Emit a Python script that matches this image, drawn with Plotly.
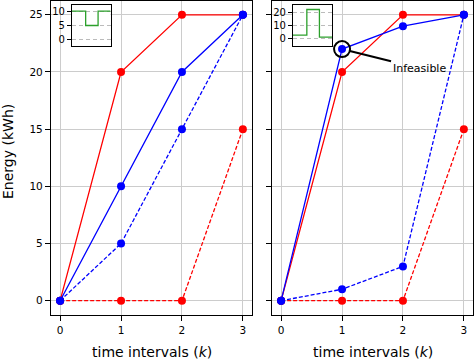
import plotly.graph_objects as go

k = [0, 1, 2, 3]
k_ticks = [0, 1, 2, 3]
e_ticks = [0, 5, 10, 15, 20, 25]

# left panel
left_red_solid = [0, 20, 25, 25]
left_red_dash = [0, 0, 0, 15]
left_blue_solid = [0, 10, 20, 25]
left_blue_dash = [0, 5, 15, 25]

# right panel
right_red_solid = [0, 20, 25, 25]
right_red_dash = [0, 0, 0, 15]
right_blue_solid = [0, 22, 24, 25]
right_blue_dash = [0, 1, 3, 25]

# insets (step profiles)
inset_x = [-0.1, 1, 2, 3.0]
left_inset_y = [10, 5, 10, 10]
left_inset_ticks = [0, 5, 10]
right_inset_y = [2.5, 22.5, 1, 1]
right_inset_ticks = [0, 10, 20]

infeasible_k = 1
infeasible_e = 22

RED = "#ff0000"
BLUE = "#0000ff"
GREEN = "#2ca02c"
DASH = "4px,2px"
FONT = "DejaVu Sans"

fig = go.Figure()

def add_series(y, color, dash, xa, ya):
    fig.add_trace(go.Scatter(
        x=k, y=y, mode="lines+markers", xaxis=xa, yaxis=ya,
        line=dict(color=color, width=1.3, dash=dash),
        marker=dict(color=color, size=8, line=dict(width=0)),
        showlegend=False, hoverinfo="skip"))

add_series(left_red_solid, RED, "solid", "x", "y")
add_series(left_red_dash, RED, DASH, "x", "y")
add_series(left_blue_solid, BLUE, "solid", "x", "y")
add_series(left_blue_dash, BLUE, DASH, "x", "y")

add_series(right_red_solid, RED, "solid", "x2", "y2")
add_series(right_red_dash, RED, DASH, "x2", "y2")
add_series(right_blue_solid, BLUE, "solid", "x2", "y2")
add_series(right_blue_dash, BLUE, DASH, "x2", "y2")

# infeasible circle
fig.add_trace(go.Scatter(
    x=[infeasible_k], y=[infeasible_e], mode="markers", xaxis="x2", yaxis="y2",
    marker=dict(symbol="circle-open", size=16, color="black", line=dict(width=2, color="black")),
    showlegend=False, hoverinfo="skip"))

# insets
fig.add_trace(go.Scatter(x=inset_x, y=left_inset_y, mode="lines", line_shape="hv",
                         xaxis="x3", yaxis="y3", line=dict(color=GREEN, width=1.3),
                         showlegend=False, hoverinfo="skip"))
fig.add_trace(go.Scatter(x=inset_x, y=right_inset_y, mode="lines", line_shape="hv",
                         xaxis="x4", yaxis="y4", line=dict(color=GREEN, width=1.3),
                         showlegend=False, hoverinfo="skip"))

W, H = 474, 362
def px_x(p): return p / W
def px_y(p): return 1 - p / H

ydom = [px_y(315), px_y(0.5)]
axis_common = dict(showline=True, linecolor="black", linewidth=1.3, mirror=True,
                   ticks="outside", ticklen=5, tickwidth=1.2, tickcolor="black",
                   showgrid=True, gridcolor="#cccccc", gridwidth=1, zeroline=False,
                   automargin=False,
                   tickfont=dict(family=FONT, size=10.5, color="black"))
inset_x_common = dict(showline=True, linecolor="black", linewidth=1.2, mirror=True,
                      showticklabels=False, ticks="", showgrid=False, zeroline=False,
                      automargin=False)
inset_y_common = dict(showline=True, linecolor="black", linewidth=1.2, mirror=True,
                      ticks="outside", ticklen=4, tickcolor="black",
                      showgrid=True, gridcolor="#bbbbbb", griddash="4px,3px", gridwidth=0.8,
                      zeroline=False, automargin=False,
                      tickfont=dict(family=FONT, size=10, color="black"))

fig.update_layout(
    width=W, height=H, margin=dict(l=0, r=0, t=0, b=0),
    paper_bgcolor="white", plot_bgcolor="white",
    font=dict(family=FONT, color="black"),
    xaxis=dict(domain=[px_x(51), px_x(252)], range=[-0.15, 3.15], tickvals=k_ticks,
               anchor="y", **axis_common),
    yaxis=dict(domain=ydom, range=[-1.25, 26.25], tickvals=e_ticks, anchor="x",
               **axis_common),
    xaxis2=dict(domain=[px_x(272), px_x(473)], range=[-0.15, 3.15], tickvals=k_ticks,
                anchor="y2", **axis_common),
    yaxis2=dict(domain=ydom, range=[-1.25, 26.25], tickvals=e_ticks, anchor="x2",
                showticklabels=False, **axis_common),
    xaxis3=dict(domain=[px_x(72), px_x(110.5)], range=[-0.1, 3.0], anchor="y3",
                **inset_x_common),
    yaxis3=dict(domain=[px_y(46), px_y(5)], range=[-2.1, 12.1], anchor="x3",
                tickvals=left_inset_ticks, **inset_y_common),
    xaxis4=dict(domain=[px_x(293), px_x(332)], range=[-0.1, 3.0], anchor="y4",
                **inset_x_common),
    yaxis4=dict(domain=[px_y(46), px_y(5)], range=[-6, 26], anchor="x4",
                tickvals=right_inset_ticks, **inset_y_common),
)

fig.add_annotation(x=infeasible_k, y=infeasible_e, xref="x2", yref="y2",
                   text="Infeasible", showarrow=True, arrowhead=0, arrowwidth=2,
                   arrowcolor="black", standoff=8, ax=77, ay=19,
                   font=dict(family=FONT, size=11, color="black"))

fig.add_annotation(x=px_x(8.5), y=px_y(151.5), xref="paper", yref="paper",
                   xanchor="center", yanchor="middle",
                   text="Energy (kWh)", textangle=-90, showarrow=False,
                   font=dict(family=FONT, size=14, color="black"))
for cx in (151.5, 372.5):
    fig.add_annotation(x=px_x(cx), y=px_y(352), xref="paper", yref="paper",
                       xanchor="center", yanchor="middle",
                       text="time intervals (<i>k</i>)", showarrow=False,
                       font=dict(family=FONT, size=14, color="black"))

fig.write_html("out.html", config={"displayModeBar": False},
               post_script="document.body.style.margin='0';document.body.style.overflow='hidden';")
